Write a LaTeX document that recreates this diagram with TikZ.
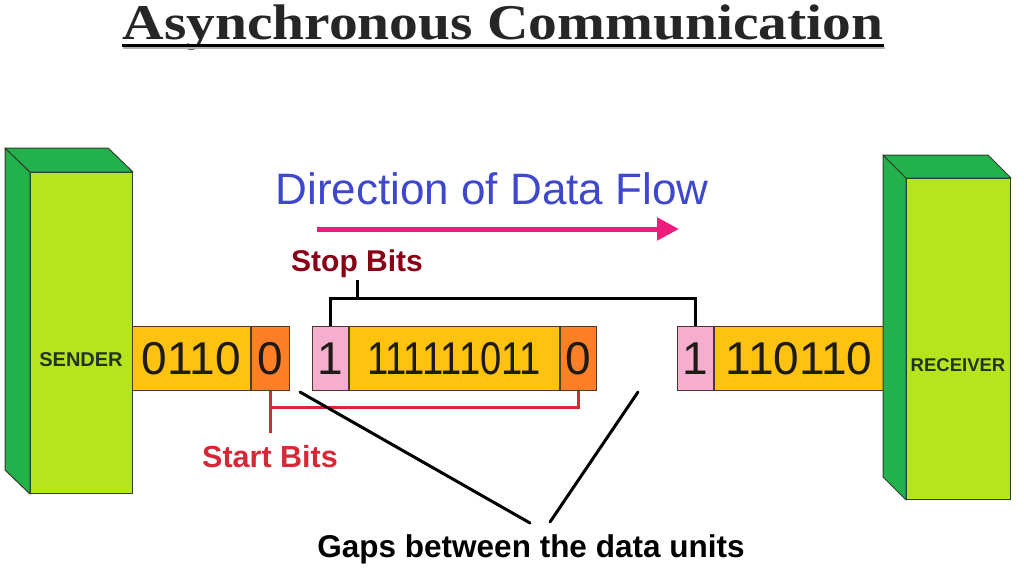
\documentclass[tikz,border=0pt]{standalone}
\usepackage{fontspec}
\setmainfont{Liberation Serif}
\newfontfamily\arialfont{Liberation Sans}
\usetikzlibrary{calc}
\usetikzlibrary{arrows.meta}
\definecolor{boxlime}{HTML}{B5E61D}
\definecolor{boxdark}{HTML}{22B14C}
\definecolor{boxedge}{HTML}{2F3F2A}
\definecolor{datay}{HTML}{FFC20E}
\definecolor{bitorange}{HTML}{FF7F27}
\definecolor{bitpink}{HTML}{F5AECD}
\definecolor{cellborder}{HTML}{4A3A2A}
\definecolor{digit}{HTML}{1E1A16}
\definecolor{flowblue}{HTML}{3F48CC}
\definecolor{flowpink}{HTML}{EC1C7C}
\definecolor{stopred}{HTML}{880015}
\definecolor{startred}{HTML}{D62837}
\newcommand{\bitsize}{\arialfont\fontsize{46}{46}\selectfont}
\newcommand{\sansat}[1]{\arialfont\bfseries\fontsize{#1}{#1}\selectfont}
\begin{document}
\begin{tikzpicture}[x=1pt,y=-1pt,
    cell/.style={draw=cellborder,line width=0.8pt,inner sep=0pt,minimum height=64pt,
        anchor=north west,font=\bitsize,text=digit},
    front/.style={draw=boxedge,line width=1pt,fill=boxlime,inner sep=0pt,
        minimum width=#1,minimum height=321pt,anchor=north west},
    back/.style={draw=boxedge,line width=1pt,fill=boxdark,line join=round},
    boxlabel/.style={text=boxedge!80!black},
    stopline/.style={line width=3pt,black},
    startline/.style={line width=3pt,startred},
    gapline/.style={line width=3pt,black,line cap=round}]
\useasboundingbox (0,0) rectangle (1024,576);

% titre
\node[anchor=base,inner xsep=0pt,text=black!85,font=\bfseries\fontsize{50}{50}\selectfont]
    (title) at (503,39) {\scalebox{1.15}[1]{Asynchronous Communication}};
\draw[line width=1.5pt,gray!60] ($(title.base west)+(1,9)$) -- ($(title.base east)+(1,9)$);
\draw[line width=3pt] ($(title.base west)+(0,6)$) -- ($(title.base east)+(0,6)$);

% emetteur
\node[front=102pt] (sender) at (30,172) {};
\draw[back] (sender.north west) -- ++(-25,-24) -- ($(sender.south west)+(-25,-24)$)
    -- (sender.south west) -- cycle;
\draw[back] (sender.north west) -- ++(-25,-24) -- ($(sender.north east)+(-25,-24)$)
    -- (sender.north east) -- cycle;
\node[boxlabel,font=\sansat{20}] (senderlbl) at (81,360) {SENDER};

% trames
\node[cell,fill=datay,minimum width=118pt] (d1) at (132,326) {0110};
\node[cell,fill=bitorange,minimum width=38pt] (o1) at (d1.north east) {0};
\node[cell,fill=bitpink,minimum width=36pt] (p1) at (312,326) {1};
\node[cell,fill=datay,minimum width=210pt] (d2) at (p1.north east)
    {\scalebox{0.83}[1]{111111011}};
\node[cell,fill=bitorange,minimum width=36pt] (o2) at (d2.north east) {0};
\node[cell,fill=bitpink,minimum width=36pt] (p2) at (677,326) {1};
\node[cell,fill=datay,minimum width=170pt] (d3) at (p2.north east) {110110};

% recepteur
\node[front=104pt] (receiver) at (906,178) {};
\draw[back] (receiver.north west) -- ++(-23,-23) -- ($(receiver.south west)+(-23,-23)$)
    -- (receiver.south west) -- cycle;
\draw[back] (receiver.north west) -- ++(-23,-23) -- ($(receiver.north east)+(-23,-23)$)
    -- (receiver.north east) -- cycle;
\node[boxlabel,font=\sansat{18.5}] (receiverlbl) at (958,365) {RECEIVER};

% sens du flux
\node[anchor=base west,text=flowblue,font=\arialfont\fontsize{44}{44}\selectfont]
    (flow) at (272,204) {Direction of Data Flow};
\coordinate (flowstart) at (317,229);
\coordinate (flowend) at (679,229);
\draw[line width=5pt,flowpink,-{Triangle[length=22pt,width=22pt]}] (flowstart) -- (flowend);

% bits de stop
\node[anchor=base,text=stopred,font=\sansat{30}] (stop) at (357,271) {Stop Bits};
\draw[stopline] ($(stop.base)+(0,9)$) -- ($(stop.base)+(0,27)$);
\draw[stopline] (p1.north) -- ++(0,-28) -| (p2.north);

% bits de start
\node[anchor=base,text=startred,font=\sansat{30.5}] (start) at (270,467) {Start Bits};
\draw[startline] (o1.south) -- ++(0,42);
\draw[startline] (o2.south) |- ($(o1.south)+(0,17)$);

% espaces
\node[anchor=base,font=\sansat{31.5}] (gaps) at (531,557) {Gaps between the data units};
\coordinate (gapA) at (300,392);
\coordinate (gapB) at (638,392);
\draw[gapline] (gapA) -- ($(gaps.base)+(-1,-34)$);
\draw[gapline] (gapB) -- ($(gaps.base)+(19,-35)$);

\end{tikzpicture}
\end{document}
